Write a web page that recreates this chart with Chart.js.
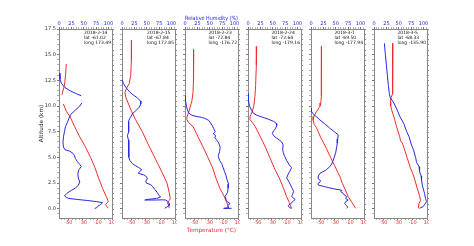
<!DOCTYPE html>
<html>
<head>
<meta charset="utf-8">
<script src="https://cdn.jsdelivr.net/npm/chart.js@4"></script>
<style>
  body { margin: 0; background: #fff; }
  #wrap { position: relative; width: 474px; height: 246px; overflow: hidden; }
  #wrap canvas { position: absolute; top: 0; }
</style>
</head>
<body>
<div id="wrap"></div>
<script>
// station info
var dates = ["2018-2-14", "2018-2-15", "2018-2-23", "2018-2-24", "2018-3-1", "2018-3-5"];
var lats = ["-61.02", "-67.84", "-72.84", "-72.64", "-69.50", "-68.33"];
var longs = ["173.49", "172.85", "-176.72", "-179.16", "-177.94", "-135.90"];

// tick labels
var altTicks = [0, 2.5, 5, 7.5, 10, 12.5, 15, 17.5];
var rhTicks = [0, 25, 50, 75, 100];
var tempTicks = [-50, -30, -10, 10];

// 2018-2-14
var tempAlt1 = [14.1, 13.0, 12.0, 11.1, null, 10.2, 9.5, 9.0, 8.0, 7.0, 6.0, 5.0, 4.0, 3.0, 2.0, 1.2, 0.7, 0.4, 0.2, 0.05];
var temp1 = [-53, -54, -55.5, -59, null, -57, -53, -48, -41.5, -34.5, -26.5, -19.5, -13.5, -8.5, -3, 2, 5, 1, 3, 5];
var rhAlt1 = [13.2, 12.6, 12.2, 11.8, 11.5, 11.2, 11.0, null, 10.3, 10.0, 9.6, 9.2, 8.8, 8.4, 8.0, 7.5, 7.0, 6.5, 6.0, 5.75, 5.6, 5.4, 5.2, 4.9, 4.6, 4.3, 4.1, 3.8, 3.4, 3.0, 2.6, 2.3, 2.0, 1.8, 1.5, 1.25, 1.1, 1.0, 0.9, 0.8, 0.7, 0.6, 0.4, 0.25, 0.1, 0.03];
var rh1 = [0, 2, 5, 12, 22, 35, 45, null, 46, 42, 33, 24, 20, 17, 13, 11, 9, 8, 9, 12, 22, 28, 31, 33, 37, 42, 45, 40, 38, 39, 42, 39, 33, 25, 16, 11, 15, 20, 38, 58, 75, 88, 84, 78, 76, 72];

// 2018-2-15
var tempAlt2 = [16.4, 14.5, 13.0, 12.2, 11.7, 11.3, 10.8, 10.2, 9.5, 8.7, 7.5, 6.5, 5.5, 4.5, 3.5, 2.5, 1.6, 1.0, 0.8, 0.6, 0.3, 0.05];
var temp2 = [-50, -50, -51, -53, -57, -59, -57.5, -54, -50, -44.5, -35, -28.5, -21.5, -14.5, -7.5, -1, 2, 3.5, 2, -0.5, 1.5, 2];
var rhAlt2 = [12.6, 12.2, 11.8, 11.4, 11.1, 10.8, 10.5, 10.2, 9.9, 9.6, 9.3, 8.9, 8.5, 8.0, 7.5, 7.1, 6.7, 6.3, 5.9, 5.5, 5.0, 4.7, 4.4, 4.2, 4.0, 3.8, 3.6, 3.45, 3.3, 3.1, 2.9, 2.7, 2.5, 2.35, 2.2, 1.9, 1.6, 1.35, 1.15, 1.0, 0.9, 0.85, 0.85, 0.87, 0.85, 0.7, 0.5, 0.3, 0.15, 0.05];
var rh2 = [0, 3, 8, 15, 22, 31, 37, 38, 35, 29, 22, 17, 13, 14, 13, 11, 13, 14, 13, 14, 14, 16, 21, 27, 34, 40, 35, 33, 44, 50, 51, 48, 49, 58, 61, 66, 71, 74, 78, 70, 50, 46, 70, 82, 88, 93, 96, 95, 90, 86];

// 2018-2-23
var tempAlt3 = [15.5, 14.0, 12.5, 11.3, 10.5, 10.0, 9.5, 9.0, 8.7, 8.4, 8.0, 7.0, 6.0, 5.0, 4.0, 3.0, 2.0, 1.2, 0.6, 0.3, 0.04];
var temp3 = [-51, -51, -51.5, -52, -53.5, -55.5, -57.5, -60, -60.5, -58, -52, -45, -38, -31.5, -25, -20.5, -15, -9, -5.5, -4, -3];
var rhAlt3 = [11.0, 10.5, 10.0, 9.6, 9.3, 9.1, 9.0, 8.9, 8.8, 8.6, 8.4, 8.1, 7.8, 7.5, 7.3, 7.1, 6.9, 6.7, 6.4, 6.0, 5.6, 5.1, 4.7, 4.4, 4.0, 3.6, 3.2, 2.8, 2.4, 2.0, 1.6, 1.2, 0.9, 0.7, 0.5, 0.3, 0.1, 0.04, 0.04];
var rh3 = [0, 1, 3, 5, 8, 14, 22, 33, 40, 48, 51, 55, 58, 61, 57, 62, 60, 64, 68, 71, 70, 67, 70, 74, 77, 80, 83, 85, 88, 87, 86, 81, 83, 85, 91, 86, 88, 78, 94];

// 2018-2-24
var tempAlt4 = [15.8, 14.0, 12.0, 10.9, 10.0, 9.5, 9.0, 8.7, 8.4, 8.0, 7.0, 6.0, 5.0, 4.0, 3.0, 2.0, 1.2, 0.6, 0.3, 0.05];
var temp4 = [-51, -51.5, -52.5, -53.5, -55, -57, -60, -60.5, -57, -53, -46, -39, -33, -27, -20, -14, -10, -6, -4.5, -3];
var rhAlt4 = [11.2, 10.5, 10.0, 9.6, 9.3, 9.1, 8.9, 8.7, 8.5, 8.3, 8.1, 7.85, 7.6, 7.35, 7.1, 6.9, 6.7, 6.5, 6.2, 5.8, 5.5, 5.1, 4.7, 4.3, 4.0, 3.7, 3.35, 3.0, 2.7, 2.4, 2.0, 1.7, 1.4, 1.2, 0.9, 0.7, 0.5, 0.3, 0.1, 0.05];
var rh4 = [0, 1, 3, 7, 11, 18, 30, 42, 52, 57, 58, 56, 52, 49, 52, 57, 63, 68, 71, 70, 71, 74, 78, 83, 88, 85, 81, 78, 82, 85, 89, 92, 90, 88, 95, 91, 86, 81, 84, 88];

// 2018-3-1
var tempAlt5 = [15.8, 14.0, 12.5, 11.0, 10.3, 10.0, 9.5, 9.0, 8.6, 8.2, 7.9, 7.0, 5.9, 5.0, 4.2, 3.1, 2.5, 1.8, 1.2, 0.6, 0.04];
var temp5 = [-48.5, -48.5, -48.5, -49, -49.5, -50.5, -55, -59, -60, -58.5, -55.5, -50, -42, -36, -30.5, -23, -20, -15.5, -12, -6.5, -1.5];
var rhAlt5 = [9.8, 9.5, 9.3, 9.0, 8.65, 8.3, 7.85, 7.5, 7.2, 6.8, 6.4, 6.05, 5.5, 5.0, 4.75, 4.4, 4.1, 3.8, 3.6, 3.45, 3.2, 2.95, 2.75, 2.6, 2.45, 2.3, 2.15, 2.05, 1.95, 1.8, 1.65, 1.5, 1.35, 1.2, 1.0, 0.85, 0.7, 0.5, 0.3, 0.15, 0.04];
var rh5 = [0, 1, 3, 10, 18, 27, 38, 47, 55, 54, 53, 52, 50, 47, 45, 42, 38, 31, 24, 18, 15, 14, 19, 18, 14, 15, 28, 36, 45, 62, 60, 65, 67, 72, 70, 75, 70, 68, 72, 74, 72];

// 2018-3-5
var tempAlt6 = [16.1, 14.5, 13.0, 12.0, 11.2, 10.8, 10.4, 10.0, 9.6, 8.8, 8.0, 7.0, 6.6, 6.4, 6.0, 5.0, 4.0, 3.5, 3.0, 2.0, 1.2, 0.8, 0.5, 0.04];
var temp6 = [-37, -37, -37, -37.5, -38, -39.5, -40.5, -40, -38.5, -35, -32, -27.5, -26.5, -24, -22, -17.5, -13, -10, -7.5, -3.5, 0, 1, -1, -2];
var rhAlt6 = [16.1, 15.0, 14.0, 13.0, 12.0, 11.2, 10.8, 10.3, 9.6, 9.0, 8.3, 7.5, 7.0, 6.3, 5.7, 5.0, 4.5, 4.1, 3.6, 3.2, 2.8, 2.2, 1.5, 1.0, 0.7, 0.4, 0.2, 0.05];
var rh6 = [21, 23, 25, 27, 29, 31, 33, 40, 47, 52, 60, 66, 71, 75, 80, 84, 86, 91, 92, 95, 96, 98, 102, 104, 106, 102, 99, 92];

var profiles = [
  [tempAlt1, temp1, rhAlt1, rh1],
  [tempAlt2, temp2, rhAlt2, rh2],
  [tempAlt3, temp3, rhAlt3, rh3],
  [tempAlt4, temp4, rhAlt4, rh4],
  [tempAlt5, temp5, rhAlt5, rh5],
  [tempAlt6, temp6, rhAlt6, rh6]
];

Chart.defaults.font.family = "'DejaVu Sans', sans-serif";

// layout of the six panels
var panelLeft = [59, 122, 185, 248, 311, 374];
var yAxisW = 59, topH = 29, bottomH = 28;

function steps(from, to, step) {
  var out = [];
  for (var v = from; v <= to + 1e-9; v += step) out.push(Math.round(v * 100) / 100);
  return out;
}
var altMinor = steps(-0.5, 17.5, 0.5);
var rhMinor = steps(0, 105, 5);
var tempMinor = steps(-60, 10, 5);

function points(alts, vals) {
  return alts.map(function (a, k) { return { x: vals[k], y: a }; });
}
function isIn(list, v) {
  return list.some(function (t) { return Math.abs(t - v) < 1e-6; });
}

// right side of the frame and the station text
var framePlugin = {
  id: 'frame',
  afterDraw: function (chart, args, opts) {
    var a = chart.chartArea, ctx = chart.ctx, ys = chart.scales.y;
    ctx.save();
    ctx.strokeStyle = '#888';
    ctx.lineWidth = 1;
    ctx.beginPath();
    ctx.moveTo(a.right + 0.5, a.top);
    ctx.lineTo(a.right + 0.5, a.bottom + 1);
    ys.ticks.forEach(function (t) {
      var py = Math.round(ys.getPixelForValue(t.value)) + 0.5;
      ctx.moveTo(a.right, py);
      ctx.lineTo(a.right + 2, py);
    });
    ctx.stroke();

    ctx.font = "4.5px 'DejaVu Sans'";
    ctx.fillStyle = '#111';
    ctx.textBaseline = 'middle';
    var w = 0;
    opts.lines.forEach(function (l) { w = Math.max(w, ctx.measureText(l).width); });
    var x0 = a.right - 1 - w;
    opts.lines.forEach(function (l, k) {
      ctx.fillText(l, x0, a.top + 4 + k * 5.1);
    });
    ctx.restore();
  }
};

function tickCol(list) {
  return function (c) { return c.tick && isIn(list, c.tick.value) ? '#777' : '#b0b0b0'; };
}

profiles.forEach(function (p, i) {
  var canvas = document.createElement('canvas');
  canvas.width = 114;
  canvas.height = 246;
  canvas.style.left = (panelLeft[i] - yAxisW) + 'px';
  document.getElementById('wrap').appendChild(canvas);

  new Chart(canvas, {
    type: 'line',
    data: {
      datasets: [
        { data: points(p[2], p[3]), xAxisID: 'xH', yAxisID: 'y', borderColor: 'rgb(40,40,225)' },
        { data: points(p[0], p[1]), xAxisID: 'xT', yAxisID: 'y', borderColor: 'rgb(240,45,45)' }
      ]
    },
    options: {
      responsive: false,
      animation: false,
      events: [],
      layout: { padding: { left: 0, right: 2, top: 0, bottom: 0 } },
      elements: {
        point: { radius: 0 },
        line: { borderWidth: 1, tension: 0 }
      },
      plugins: {
        legend: { display: false },
        tooltip: { enabled: false },
        frame: { lines: [dates[i], 'lat ' + lats[i], 'long ' + longs[i]] }
      },
      scales: {
        y: {
          type: 'linear',
          min: -0.9,
          max: 17.5,
          afterBuildTicks: function (s) { s.ticks = altMinor.map(function (v) { return { value: v }; }); },
          afterFit: function (s) { s.width = yAxisW; s.paddingTop = 0; s.paddingBottom = 0; },
          ticks: {
            display: i === 0,
            autoSkip: false,
            padding: 1,
            color: '#333',
            font: { size: 5 },
            callback: function (v) { return isIn(altTicks, v) ? v.toFixed(1) : ''; }
          },
          grid: { drawOnChartArea: false, tickLength: 2, tickColor: tickCol(altTicks) },
          border: { color: '#888' },
          title: {
            display: i === 0,
            text: 'Altitude (km)',
            color: '#222',
            font: { size: 5.7 },
            padding: { top: 38, bottom: 0 }
          }
        },
        xT: {
          type: 'linear',
          position: 'bottom',
          min: -63,
          max: 10,
          afterBuildTicks: function (s) { s.ticks = tempMinor.map(function (v) { return { value: v }; }); },
          afterFit: function (s) { s.height = bottomH; s.paddingLeft = 0; s.paddingRight = 0; },
          ticks: {
            autoSkip: false,
            maxRotation: 0,
            minRotation: 0,
            padding: 0,
            color: 'rgb(235,40,40)',
            font: { size: 5 },
            callback: function (v) { return isIn(tempTicks, v) ? String(v) : ''; }
          },
          grid: { drawOnChartArea: false, tickLength: 2, tickColor: tickCol(tempTicks) },
          border: { color: '#888' },
          title: {
            display: i === 2,
            text: 'Temperature (\u00b0C)',
            color: 'rgb(235,40,40)',
            font: { size: 5.7 },
            padding: { top: 0, bottom: 12.4 }
          }
        },
        xH: {
          type: 'linear',
          position: 'top',
          min: 0,
          max: 107,
          afterBuildTicks: function (s) { s.ticks = rhMinor.map(function (v) { return { value: v }; }); },
          afterFit: function (s) { s.height = topH; s.paddingLeft = 0; s.paddingRight = 0; },
          ticks: {
            autoSkip: false,
            maxRotation: 0,
            minRotation: 0,
            padding: 0,
            color: 'rgb(40,40,225)',
            font: { size: 5 },
            callback: function (v) { return isIn(rhTicks, v) ? String(v) : ''; }
          },
          grid: { drawOnChartArea: false, tickLength: 2, tickColor: tickCol(rhTicks) },
          border: { color: '#888' },
          title: {
            display: i === 2,
            text: 'Relative Humidity (%)',
            color: 'rgb(40,40,225)',
            font: { size: 5.7 },
            padding: { top: 15.6, bottom: 0 }
          }
        }
      }
    },
    plugins: [framePlugin]
  });
});
</script>
</body>
</html>
